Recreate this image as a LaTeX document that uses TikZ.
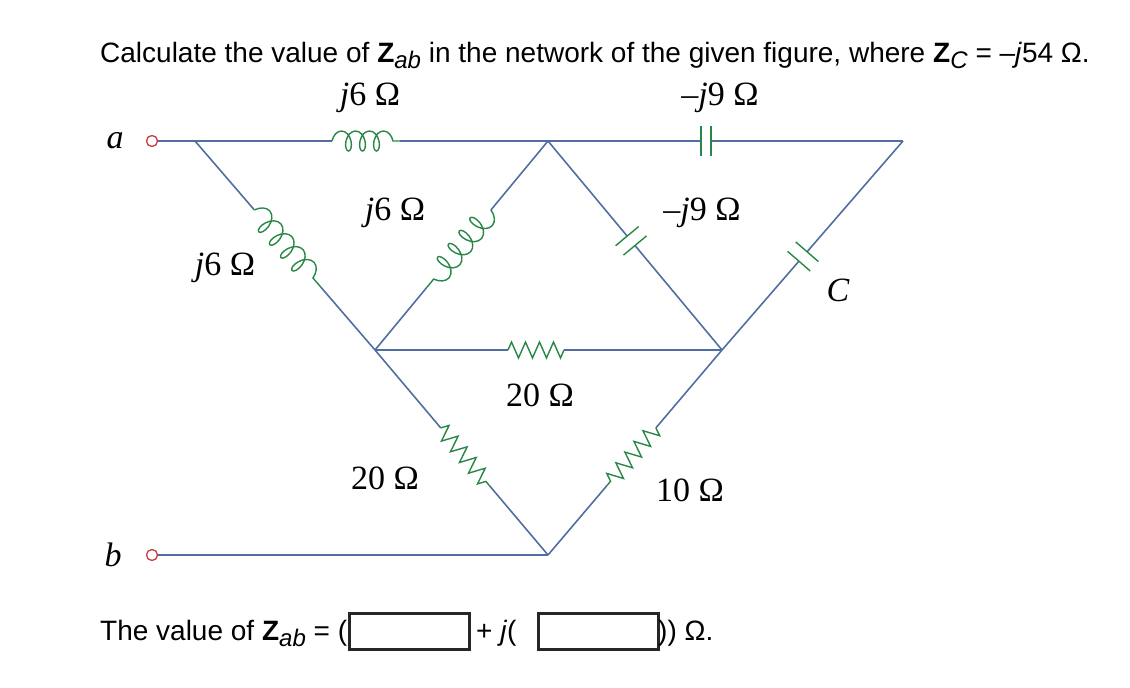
\documentclass[tikz,border=0pt]{standalone}
\usepackage{fontspec}
\setmainfont{Liberation Serif}
\newfontfamily\arial{Liberation Sans}
\usetikzlibrary{calc,decorations.pathmorphing}
\definecolor{wirec}{RGB}{80,110,160}
\definecolor{compc}{RGB}{40,135,70}
\definecolor{termc}{RGB}{200,60,60}
\tikzset{
 wire/.style={draw=wirec,line width=1.6pt},
 comp/.style={draw=compc,line width=1.4pt},
 coilc/.style={comp,decorate,decoration={coil,aspect=0.6,amplitude=11pt,segment length=17pt}},
 resc/.style={comp,decorate,decoration={zigzag,amplitude=8pt,segment length=14pt}},
 term/.style={circle,draw=termc,line width=1.3pt,inner sep=0pt,minimum size=11pt,fill=white},
 lbl/.style={font=\fontsize{34}{36}\selectfont,inner sep=0pt},
 txt/.style={font=\arial\fontsize{28}{32}\selectfont,inner sep=0pt,anchor=base west},
 box/.style={draw=black!85,line width=3pt,minimum width=120pt,minimum height=36pt,inner sep=0pt}
}
\begin{document}
\begin{tikzpicture}[x=1pt,y=1pt]
\useasboundingbox (0,0) rectangle (1130,-688);
\coordinate (A) at (152,-141);
\coordinate (L) at (195,-141);
\coordinate (T) at (548,-141);
\coordinate (R) at (903,-141);
\coordinate (M1) at (375,-350);
\coordinate (M2) at (722,-350);
\coordinate (Bt) at (548,-555);
\coordinate (B) at (152,-555);
% top wire with inductor
\coordinate (i1) at (332,-141); \coordinate (i2) at (400,-141);
\draw[wire] (A) -- (i1); \draw[wire] (i2) -- (T);
\draw[coilc,decoration={segment length=14pt,amplitude=10pt}] (i1) -- (i2);
% top capacitor
\coordinate (c1) at (701,-141); \coordinate (c2) at (711,-141);
\draw[wire] (T) -- (c1); \draw[wire] (c2) -- (R);
\draw[comp] (701,-126) -- (701,-156); \draw[comp] (711,-126) -- (711,-156);
% left diagonal inductor
\coordinate (l1) at ($(L)!0.33!(M1)$); \coordinate (l2) at ($(L)!0.70!(M1)$);
\draw[wire] (L) -- (l1); \draw[wire] (l2) -- (M1); \draw[coilc] (l1) -- (l2);
% middle-left inductor
\coordinate (m1) at ($(T)!0.33!(M1)$); \coordinate (m2) at ($(T)!0.70!(M1)$);
\draw[wire] (T) -- (m1); \draw[wire] (m2) -- (M1); \draw[coilc] (m1) -- (m2);
% middle-right capacitor
\coordinate (k1) at ($(T)!0.455!(M2)$); \coordinate (k2) at ($(T)!0.5!(M2)$);
\draw[wire] (T) -- (k1); \draw[wire] (k2) -- (M2);
\draw[comp] ($(k1)!15pt!90:(M2)$) -- ($(k1)!15pt!-90:(M2)$);
\draw[comp] ($(k2)!15pt!90:(M2)$) -- ($(k2)!15pt!-90:(M2)$);
% right capacitor C
\coordinate (q1) at ($(R)!0.53!(M2)$); \coordinate (q2) at ($(R)!0.575!(M2)$);
\draw[wire] (R) -- (q1); \draw[wire] (q2) -- (M2);
\draw[comp] ($(q1)!15pt!90:(M2)$) -- ($(q1)!15pt!-90:(M2)$);
\draw[comp] ($(q2)!15pt!90:(M2)$) -- ($(q2)!15pt!-90:(M2)$);
% horizontal resistor
\coordinate (h1) at (508,-350); \coordinate (h2) at (564,-350);
\draw[wire] (M1) -- (h1); \draw[wire] (h2) -- (M2); \draw[resc] (h1) -- (h2);
% lower-left resistor
\coordinate (r1) at ($(M1)!0.38!(Bt)$); \coordinate (r2) at ($(M1)!0.66!(Bt)$);
\draw[wire] (M1) -- (r1); \draw[wire] (r2) -- (Bt); \draw[resc] (r1) -- (r2);
% lower-right resistor
\coordinate (s1) at ($(M2)!0.38!(Bt)$); \coordinate (s2) at ($(M2)!0.66!(Bt)$);
\draw[wire] (M2) -- (s1); \draw[wire] (s2) -- (Bt); \draw[resc] (s1) -- (s2);
\draw[wire] (B) -- (Bt);
\node[term] (ta) at (A) {};
\node[term] (tb) at (B) {};
\node[lbl] (la) at (115,-141) {\textit{a}};
\node[lbl] (lb) at (113,-555) {\textit{b}};
\node[lbl] (t1) at (370,-98) {\textit{j}6 Ω};
\node[lbl] (t2) at (720,-98) {\textendash\textit{j}9 Ω};
\node[lbl] (t3) at (395,-213) {\textit{j}6 Ω};
\node[lbl] (t4) at (702,-213) {\textendash\textit{j}9 Ω};
\node[lbl] (t5) at (225,-268) {\textit{j}6 Ω};
\node[lbl] (t6) at (838,-290) {\textit{C}};
\node[lbl] (t7) at (540,-395) {20 Ω};
\node[lbl] (t8) at (385,-478) {20 Ω};
\node[lbl] (t9) at (690,-490) {10 Ω};
\node[txt] (title) at (100,-62) {Calculate the value of \textbf{Z}\raisebox{-6pt}{\fontsize{24}{24}\selectfont\textit{ab}} in the network of the given figure, where \textbf{Z}\raisebox{-6pt}{\fontsize{24}{24}\selectfont\textit{C}} = \textendash\textit{j}54 Ω.};
\node[txt] (ans) at (100,-640) {The value of \textbf{Z}\raisebox{-6pt}{\fontsize{24}{24}\selectfont\textit{ab}} = (};
\node[box] (b1) at (409,-631) {};
\node[txt] (pj) at (476,-640) {+ \textit{j}(};
\node[box] (b2) at (598,-631) {};
\node[txt] (end) at (658,-640) {)) Ω.};
\end{tikzpicture}
\end{document}
